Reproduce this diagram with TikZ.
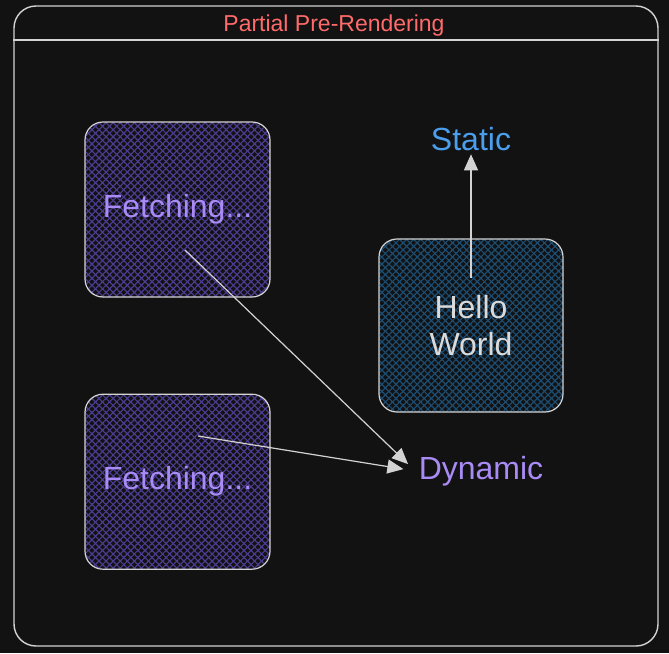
\documentclass[tikz,border=0pt]{standalone}
\usepackage{fontspec}
\setmainfont{Liberation Sans}
\usetikzlibrary{positioning}
\usetikzlibrary{arrows.meta}
\usetikzlibrary{patterns.meta}
\definecolor{bgclr}{HTML}{121212}
\definecolor{lineclr}{HTML}{D3D3D3}
\definecolor{titleclr}{HTML}{FF6B6B}
\definecolor{violet}{HTML}{A98BF5}
\definecolor{violethatch}{HTML}{4C3C92}
\definecolor{bluehatch}{HTML}{1C4E74}
\definecolor{staticclr}{HTML}{4A9EED}
\definecolor{helloclr}{HTML}{DADADA}
\tikzset{
every node/.style={ % Sets the font for each label
font=\fontsize{32}{37}\selectfont},
hatchbox/.style={ % Rounded box with a cross-hatched fill
draw=lineclr,
line width=1.2pt,
rounded corners=18pt,
minimum width=185pt,
minimum height=175pt,
align=center,
preaction={pattern={Lines[angle=45,distance=5pt,line width=1.2pt]}, pattern color=#1},
preaction={pattern={Lines[angle=-45,distance=5pt,line width=1.2pt]}, pattern color=#1}},
link/.style={ % Sets the properties for each connector
draw=lineclr,
line width=1.2pt,
-{Triangle[length=16pt,width=14pt]}}}

\begin{document}
\begin{tikzpicture}[x=1pt, y=-1pt]
\fill[bgclr] (0,0) rectangle (669,653);
\node[draw=lineclr, line width=1.4pt, rounded corners=22pt, minimum width=644pt, minimum height=640pt] (frame) at (336,326) {};
\draw[lineclr, line width=1.4pt] (frame.west |- 0,40) -- (frame.east |- 0,40);
\node[text=titleclr, font=\fontsize{23}{26}\selectfont] (title) at (334,26) {Partial Pre-Rendering};
\node[hatchbox=violethatch, text=violet] (fetchA) at (177.5,209.5) {Fetching...};
\node[hatchbox=violethatch, text=violet, below=96pt of fetchA] (fetchB) {Fetching...};
\node[hatchbox=bluehatch, text=helloclr, minimum width=184pt, minimum height=173pt] (hello) at (471,325.5) {Hello\\World};
\node[text=staticclr] (static) at (471,139) {Static};
\node[text=violet] (dynamic) at (481,471) {Dynamic};
\coordinate (fetchAtail) at (185,250);
\coordinate (fetchBtail) at (198,436);
\coordinate (hellotail) at (471,278);
\draw[link, shorten >=10pt] (fetchAtail) -- (dynamic.west);
\draw[link, shorten >=12pt] (fetchBtail) -- (dynamic.west);
\draw[link, shorten >=0pt] (hellotail) -- (static.south);
\end{tikzpicture}
\end{document}
